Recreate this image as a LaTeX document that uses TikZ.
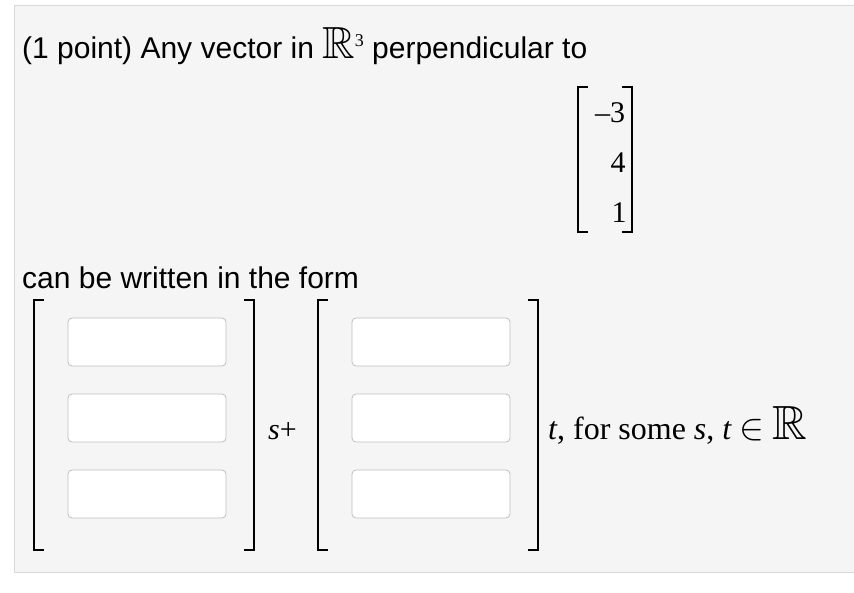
\documentclass[tikz,border=0pt]{standalone}
\usepackage{amssymb}
\usepackage{graphicx}
\usepackage{fontspec}
\setmainfont{Liberation Serif}
\newfontfamily\hel{Liberation Sans}
\newcommand{\bigR}{\scalebox{1.5}{$\mathbb{R}$}}
\begin{document}
\begin{tikzpicture}[x=1pt,y=-1pt,
  ansbox/.style={draw=black!25,fill=white,rounded corners=4pt,line width=0.8pt,minimum width=158pt,minimum height=48pt,inner sep=0pt},
  brk/.style={line width=1.6pt},
  txt/.style={inner sep=0pt,anchor=base west,font=\hel\fontsize{30}{32}\selectfont},
  mtx/.style={inner sep=0pt,anchor=base,font=\fontsize{30}{32}\selectfont}]
\useasboundingbox (0,0) rectangle (854,592);
\draw[fill=black!4,draw=black!15] (14,5) rectangle (860,572);
\node[txt] (q) at (22,58) {(1 point) Any vector in \bigR\raisebox{12pt}{\rmfamily\fontsize{18}{20}\selectfont 3} perpendicular to};
% given vector
\draw[brk] (588,87) -- (578,87) -- (578,232) -- (588,232);
\draw[brk] (622,87) -- (632,87) -- (632,232) -- (622,232);
\node[mtx] (v1) at (610,122) {\textendash3};
\node[mtx] (v2) at (618,172) {4};
\node[mtx] (v3) at (619,222) {1};
\node[txt] (c) at (22,288) {can be written in the form};
% first matrix
\draw[brk] (44,300) -- (34,300) -- (34,550) -- (44,550);
\draw[brk] (244,300) -- (254,300) -- (254,550) -- (244,550);
\node[ansbox] (a1) at (147,342) {};
\node[ansbox] (a2) at (147,418) {};
\node[ansbox] (a3) at (147,494) {};
\node[mtx,anchor=base west] (s) at (268,439) {\textit{s}+};
% second matrix
\draw[brk] (328,300) -- (318,300) -- (318,550) -- (328,550);
\draw[brk] (528,300) -- (538,300) -- (538,550) -- (528,550);
\node[ansbox] (b1) at (431,342) {};
\node[ansbox] (b2) at (431,418) {};
\node[ansbox] (b3) at (431,494) {};
\node[mtx,anchor=base west,font=\fontsize{32}{34}\selectfont] (t) at (548,439) {\textit{t}, for some \textit{s}, \textit{t} \scalebox{1.5}{$\in$} \bigR};
\end{tikzpicture}
\end{document}
